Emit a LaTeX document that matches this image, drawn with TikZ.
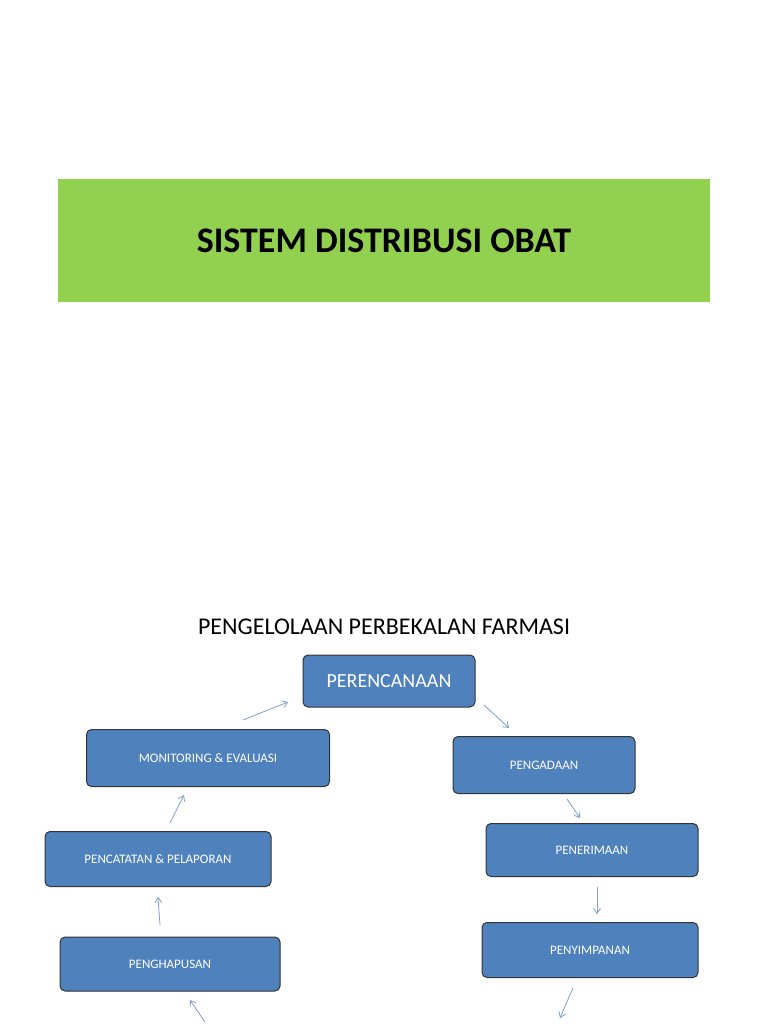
\documentclass[tikz,border=0pt]{standalone}
\usepackage{fontspec}
\setmainfont{Carlito}
\usetikzlibrary{arrows.meta}
\definecolor{bannergreen}{HTML}{92D050}
\definecolor{boxblue}{HTML}{4F81BD}
\definecolor{arrowblue}{HTML}{7D9FCF}
\begin{document}
\begin{tikzpicture}[x=1pt,y=-1pt,
  box/.style={draw=black!80,line width=1pt,fill=boxblue,rounded corners=5pt,text=white,inner sep=0pt,font=\fontsize{11}{13}\selectfont},
  conn/.style={draw=arrowblue,line width=0.8pt,-{Straight Barb[length=5pt,width=7pt]}}]
\useasboundingbox (0,0) rectangle (768,1024);
\fill[white] (0,0) rectangle (768,1024);
\node[fill=bannergreen,minimum width=652pt,minimum height=123pt,inner sep=0pt,font=\fontsize{36}{40}\selectfont\bfseries] (title) at (384,240.5) {SISTEM DISTRIBUSI OBAT};
\node[font=\fontsize{24}{28}\selectfont] (sub) at (384,627) {PENGELOLAAN PERBEKALAN FARMASI};
\node[box,minimum width=172pt,minimum height=52pt,font=\fontsize{20}{24}\selectfont] (per) at (389,681) {PERENCANAAN};
\node[box,minimum width=243pt,minimum height=57pt,font=\fontsize{13}{15}\selectfont] (mon) at (208,758) {MONITORING \& EVALUASI};
\node[box,minimum width=182pt,minimum height=57pt,font=\fontsize{13}{15}\selectfont] (pga) at (544,765) {PENGADAAN};
\node[box,minimum width=212pt,minimum height=53pt,font=\fontsize{13}{15}\selectfont] (pen) at (592,850) {PENERIMAAN};
\node[box,minimum width=226pt,minimum height=55pt,font=\fontsize{13}{15}\selectfont] (pct) at (158,859) {PENCATATAN \& PELAPORAN};
\node[box,minimum width=216pt,minimum height=55pt,font=\fontsize{13}{15}\selectfont] (pny) at (590,950) {PENYIMPANAN};
\node[box,minimum width=220pt,minimum height=54pt,font=\fontsize{13}{15}\selectfont] (phs) at (170,964) {PENGHAPUSAN};
\coordinate (a1s) at (243,720); \coordinate (a1e) at (288,702);
\coordinate (a2s) at (484,705); \coordinate (a2e) at (509,728);
\coordinate (a3s) at (567,799); \coordinate (a3e) at (580,818);
\coordinate (a4s) at (597,887); \coordinate (a4e) at (597,914);
\coordinate (a5s) at (573,988); \coordinate (a5e) at (560,1018);
\coordinate (a6s) at (205,1022); \coordinate (a6e) at (190,1000);
\coordinate (a7s) at (160,925); \coordinate (a7e) at (158,897);
\coordinate (a8s) at (170,823); \coordinate (a8e) at (184,795);
\draw[conn] (a1s) -- (a1e);
\draw[conn] (a2s) -- (a2e);
\draw[conn] (a3s) -- (a3e);
\draw[conn] (a4s) -- (a4e);
\draw[conn] (a5s) -- (a5e);
\draw[conn] (a6s) -- (a6e);
\draw[conn] (a7s) -- (a7e);
\draw[conn] (a8s) -- (a8e);
\end{tikzpicture}
\end{document}
